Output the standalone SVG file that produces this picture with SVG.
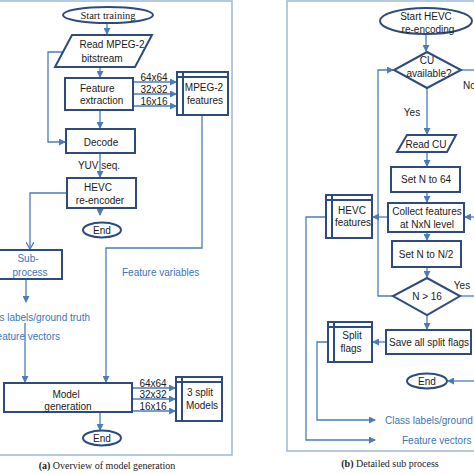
<svg xmlns="http://www.w3.org/2000/svg" width="474" height="474" viewBox="0 0 474 474">
<defs>
<style>
.sh{fill:#fff;stroke:#2d4b7c;stroke-width:2}
.cn{fill:none;stroke:#4a7cb8;stroke-width:1.3}
.fr{fill:none;stroke:#9db8d8;stroke-width:1.5}
.t{font-family:"Liberation Sans",Arial,sans-serif;font-size:10px;fill:#1a1a1a;text-anchor:middle}
.b{font-family:"Liberation Sans",Arial,sans-serif;font-size:10px;fill:#3c76b2}
.s{font-family:"Liberation Serif","Times New Roman",serif;font-size:10.5px;fill:#1a1a1a;text-anchor:middle}
</style>
<marker id="a" markerWidth="7" markerHeight="7" refX="6" refY="3.5" orient="auto" markerUnits="userSpaceOnUse"><path d="M0,0 L7,3.5 L0,7 Z" fill="#4a7cb8"/></marker>
<marker id="v" markerWidth="8" markerHeight="8" refX="7" refY="4" orient="auto" markerUnits="userSpaceOnUse"><path d="M0,0 L7,4 L0,8" fill="none" stroke="#4a7cb8" stroke-width="1.3"/></marker>
</defs>
<rect width="474" height="474" fill="#fff"/>
<g id="frames">
<path class="fr" d="M0,1 H232 V455 H0"/>
<path class="fr" d="M474,1 H287 V451 H474"/>
</g>
<g id="connectors">
<path class="cn" d="M107,23 V34" marker-end="url(#a)"/>
<path class="cn" d="M100,67 V77" marker-end="url(#a)"/>
<path class="cn" d="M63,52 H48 V142 H65" marker-end="url(#a)"/>
<path class="cn" d="M133,82 H176" marker-end="url(#a)"/>
<path class="cn" d="M133,94 H176" marker-end="url(#a)"/>
<path class="cn" d="M133,106 H176" marker-end="url(#a)"/>
<path class="cn" d="M100,110 V128" marker-end="url(#a)"/>
<path class="cn" d="M100,153 V177" marker-end="url(#a)"/>
<path class="cn" d="M100,208 V215" marker-end="url(#a)"/>
<path class="cn" d="M67,193 H30 V249" marker-end="url(#v)"/>
<path class="cn" d="M26,279 V302" marker-end="url(#a)"/>
<path class="cn" d="M25,323 V382" marker-end="url(#a)"/>
<path class="cn" d="M202,115 V248 H106 V382" marker-end="url(#a)"/>
<path class="cn" d="M132,388 H175" marker-end="url(#a)"/>
<path class="cn" d="M132,399 H175" marker-end="url(#a)"/>
<path class="cn" d="M132,411 H175" marker-end="url(#a)"/>
<path class="cn" d="M100,412 V430" marker-end="url(#a)"/>
<path class="cn" d="M426,34 V51" marker-end="url(#a)"/>
<path class="cn" d="M427,88 V134" marker-end="url(#a)"/>
<path class="cn" d="M461,70 H474"/>
<path class="cn" d="M393,296 H378 V70 H393" marker-end="url(#a)"/>
<path class="cn" d="M427,152 V166" marker-end="url(#a)"/>
<path class="cn" d="M427,192 V202" marker-end="url(#a)"/>
<path class="cn" d="M474,217 H465" marker-end="url(#a)"/>
<path class="cn" d="M388,217 H373" marker-end="url(#a)"/>
<path class="cn" d="M326,217 H306 V440 H375" marker-end="url(#a)"/>
<path class="cn" d="M427,232 V240" marker-end="url(#a)"/>
<path class="cn" d="M427,267 V277" marker-end="url(#a)"/>
<path class="cn" d="M460,296 H474"/>
<path class="cn" d="M427,315 V329" marker-end="url(#a)"/>
<path class="cn" d="M386,342 H373" marker-end="url(#a)"/>
<path class="cn" d="M328,342 H317 V420 H375" marker-end="url(#a)"/>
<path class="cn" d="M474,381 H448" marker-end="url(#a)"/>
</g>
<g id="start-training"><ellipse class="sh" cx="108" cy="15" rx="45" ry="8"/><text class="s" x="108" y="18.5">Start training</text></g>
<g id="read-mpeg2"><polygon class="sh" points="72,35 152,35 135,67 55,67"/><text class="t" x="112" y="47.5">Read MPEG-2</text><text class="t" x="102" y="61.5">bitstream</text></g>
<g id="feature-extraction"><rect class="sh" x="65" y="78" width="68" height="32"/><text class="t" x="80" y="91.5" text-anchor="start" style="text-anchor:start">Feature</text><text class="t" x="80" y="104" style="text-anchor:start">extraction</text></g>
<g id="sizes-a" class="t"><text class="t" x="154" y="81">64x64</text><text class="t" x="154" y="93">32x32</text><text class="t" x="154" y="104.5">16x16</text></g>
<g id="mpeg2-features"><rect class="sh" x="177" y="72" width="51" height="43"/><path class="sh" d="M183,72 V115 M177,77 H228" fill="none"/><text class="t" x="204" y="90.5">MPEG-2</text><text class="t" x="205" y="103.5">features</text></g>
<g id="decode"><rect class="sh" x="66" y="129" width="69" height="24"/><text class="t" x="101" y="145.5">Decode</text></g>
<g id="yuv"><text class="t" x="99" y="168.5">YUV seq.</text></g>
<g id="hevc-reencoder"><rect class="sh" x="67" y="178" width="69" height="30"/><text class="t" x="98" y="190.5">HEVC</text><text class="t" x="100" y="203.5">re-encoder</text></g>
<g id="end-a1"><ellipse class="sh" cx="102" cy="230" rx="19" ry="7.5"/><text class="t" x="102" y="233.5">End</text></g>
<g id="sub-process"><rect class="sh" x="-5" y="250" width="67" height="29"/><text class="b" x="28" y="261.5" text-anchor="middle">Sub-</text><text class="b" x="30" y="275.5" text-anchor="middle">process</text></g>
<g id="labels-a"><text class="b" x="90" y="320.5" text-anchor="end">Class labels/ground truth</text><text class="b" x="60" y="339.5" text-anchor="end">Feature vectors</text><text class="b" x="122" y="275.5">Feature variables</text></g>
<g id="model-generation"><rect class="sh" x="4" y="383" width="128" height="29"/><text class="t" x="66" y="397.5">Model</text><text class="t" x="68" y="410">generation</text></g>
<g id="sizes-b"><text class="t" x="153" y="387">64x64</text><text class="t" x="153" y="398">32x32</text><text class="t" x="153" y="409.5">16x16</text></g>
<g id="split-models"><rect class="sh" x="176" y="377" width="46" height="44"/><path class="sh" d="M182,377 V421 M176,382 H222" fill="none"/><text class="t" x="200" y="395.5">3 split</text><text class="t" x="202" y="408.5">Models</text></g>
<g id="end-a2"><ellipse class="sh" cx="102" cy="438" rx="19" ry="7.5"/><text class="t" x="102" y="441.5">End</text></g>
<g id="caption-a"><text x="107" y="469" style="font-family:'Liberation Serif','Times New Roman',serif;font-size:10px;fill:#1a1a1a;text-anchor:middle"><tspan font-weight="bold">(a)</tspan> Overview of model generation</text></g>
<g id="start-hevc"><ellipse class="sh" cx="426" cy="21" rx="46" ry="13"/><text class="t" x="426" y="19.5">Start HEVC</text><text class="t" x="428" y="32.5">re-encoding</text></g>
<g id="cu-available"><polygon class="sh" points="427,52 461,70 427,88 394,70"/><text class="t" x="427" y="63.5">CU</text><text class="t" x="429" y="76.5">available?</text></g>
<g id="labels-b1"><text class="t" x="463" y="89" style="text-anchor:start">No</text><text class="t" x="412" y="115.5">Yes</text><text class="t" x="462" y="288.5">Yes</text></g>
<g id="read-cu"><polygon class="sh" points="407,135 456,135 447,152 397,152"/><text class="t" x="426" y="147.5">Read CU</text></g>
<g id="set-n-64"><rect class="sh" x="391" y="167" width="69" height="25"/><text class="t" x="426" y="182.5">Set N to 64</text></g>
<g id="collect-features"><rect class="sh" x="388" y="203" width="76" height="29"/><text class="t" x="427" y="214.5">Collect features</text><text class="t" x="427" y="227.5">at NxN level</text></g>
<g id="hevc-features"><rect class="sh" x="326" y="195" width="46" height="43"/><path class="sh" d="M332,195 V238 M326,200 H372" fill="none"/><text class="t" x="352" y="213.5">HEVC</text><text class="t" x="353" y="225.5">features</text></g>
<g id="set-n-half"><rect class="sh" x="392" y="241" width="69" height="26"/><text class="t" x="426" y="257.5">Set N to N/2</text></g>
<g id="n-gt-16"><polygon class="sh" points="427,278 460,296 427,315 393,296"/><text class="t" x="427" y="299.5">N &gt; 16</text></g>
<g id="save-flags"><rect class="sh" x="386" y="330" width="85" height="24"/><text class="t" x="429" y="345.5">Save all split flags</text></g>
<g id="split-flags"><rect class="sh" x="328" y="322" width="44" height="40"/><path class="sh" d="M334,322 V362 M328,327 H372" fill="none"/><text class="t" x="352" y="338.5">Split</text><text class="t" x="351" y="351.5">flags</text></g>
<g id="end-b"><ellipse class="sh" cx="427" cy="381" rx="20" ry="7.5"/><text class="t" x="427" y="384.5">End</text></g>
<g id="labels-b2"><text class="b" x="385" y="424">Class labels/ground</text><text class="b" x="402" y="443.5">Feature vectors</text></g>
<g id="caption-b"><text x="390" y="467" style="font-family:'Liberation Serif','Times New Roman',serif;font-size:10px;fill:#1a1a1a;text-anchor:middle"><tspan font-weight="bold">(b)</tspan> Detailed sub process</text></g>
</svg>
